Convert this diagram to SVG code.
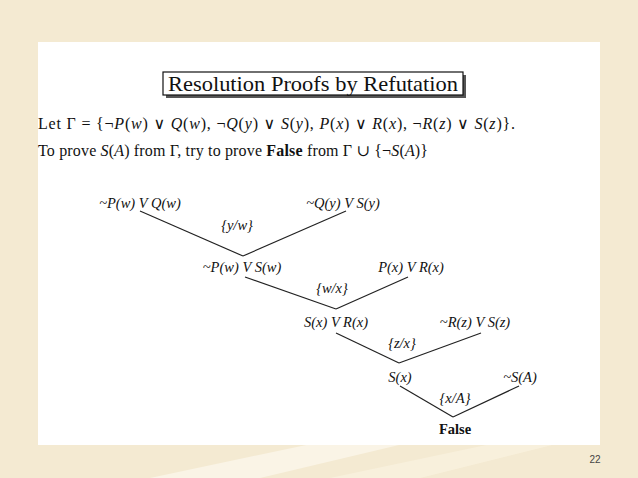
<svg xmlns="http://www.w3.org/2000/svg" width="638" height="478" viewBox="0 0 638 478">
<style>
.t{font-family:"Liberation Serif","DejaVu Serif",serif;fill:#111}
.n{font-family:"Liberation Serif",serif;font-style:italic;font-size:14.5px;fill:#111;text-anchor:middle}
.i{font-style:italic}
line{stroke:#222;stroke-width:1.2}
</style>
<rect width="638" height="478" fill="#f4ead2"/>
<path d="M150 478 L330 440 L420 440 L260 478Z" fill="#faf4e6"/>
<path d="M330 478 L520 438 L580 438 L420 478Z" fill="#f8f0dc"/>
<rect x="38" y="42" width="562" height="403" fill="#fff"/>
<g id="title">
<rect x="166" y="75" width="300" height="23" fill="#555"/>
<rect x="163" y="72" width="300" height="23" fill="#fff" stroke="#111" stroke-width="1.2"/>
<text class="t" x="313" y="91" font-size="22" text-anchor="middle" textLength="290" lengthAdjust="spacingAndGlyphs">Resolution Proofs by Refutation</text>
</g>
<g id="desc">
<text class="t" x="38" y="129" font-size="16" textLength="477">Let Γ = {¬<tspan class="i">P</tspan>(<tspan class="i">w</tspan>) ∨ <tspan class="i">Q</tspan>(<tspan class="i">w</tspan>), ¬<tspan class="i">Q</tspan>(<tspan class="i">y</tspan>) ∨ <tspan class="i">S</tspan>(<tspan class="i">y</tspan>), <tspan class="i">P</tspan>(<tspan class="i">x</tspan>) ∨ <tspan class="i">R</tspan>(<tspan class="i">x</tspan>), ¬<tspan class="i">R</tspan>(<tspan class="i">z</tspan>) ∨ <tspan class="i">S</tspan>(<tspan class="i">z</tspan>)}.</text>
<text class="t" x="38" y="156" font-size="16" textLength="390">To prove <tspan class="i">S</tspan>(<tspan class="i">A</tspan>) from Γ, try to prove <tspan font-weight="bold">False</tspan> from Γ ∪ {¬<tspan class="i">S</tspan>(<tspan class="i">A</tspan>)}</text>
</g>
<g id="connectors">
<line x1="140" y1="211" x2="243" y2="256"/><line x1="346" y1="211" x2="243" y2="256"/>
<line x1="245" y1="277" x2="336" y2="309"/><line x1="408" y1="277" x2="336" y2="309"/>
<line x1="336" y1="333" x2="399" y2="363"/><line x1="481" y1="333" x2="399" y2="363"/>
<line x1="400" y1="386" x2="453" y2="417"/><line x1="519" y1="386" x2="453" y2="417"/>
</g>
<g id="n1"><text class="n" x="140" y="208">~P(w) V Q(w)</text></g>
<g id="n2"><text class="n" x="343" y="208">~Q(y) V S(y)</text></g>
<g id="l1"><text class="n" x="237" y="230">{y/w}</text></g>
<g id="n3"><text class="n" x="242" y="272">~P(w) V S(w)</text></g>
<g id="n4"><text class="n" x="411" y="272">P(x) V R(x)</text></g>
<g id="l2"><text class="n" x="332" y="293">{w/x}</text></g>
<g id="n5"><text class="n" x="336" y="327">S(x) V R(x)</text></g>
<g id="n6"><text class="n" x="475" y="327">~R(z) V S(z)</text></g>
<g id="l3"><text class="n" x="402" y="348">{z/x}</text></g>
<g id="n7"><text class="n" x="400" y="382">S(x)</text></g>
<g id="n8"><text class="n" x="520" y="382">~S(A)</text></g>
<g id="l4"><text class="n" x="455" y="403">{x/A}</text></g>
<g id="n9"><text class="t" x="455" y="434" font-size="14.5" font-weight="bold" text-anchor="middle">False</text></g>
<text x="595" y="463" font-family="Liberation Sans,sans-serif" font-size="10" fill="#444" text-anchor="middle">22</text>
</svg>
